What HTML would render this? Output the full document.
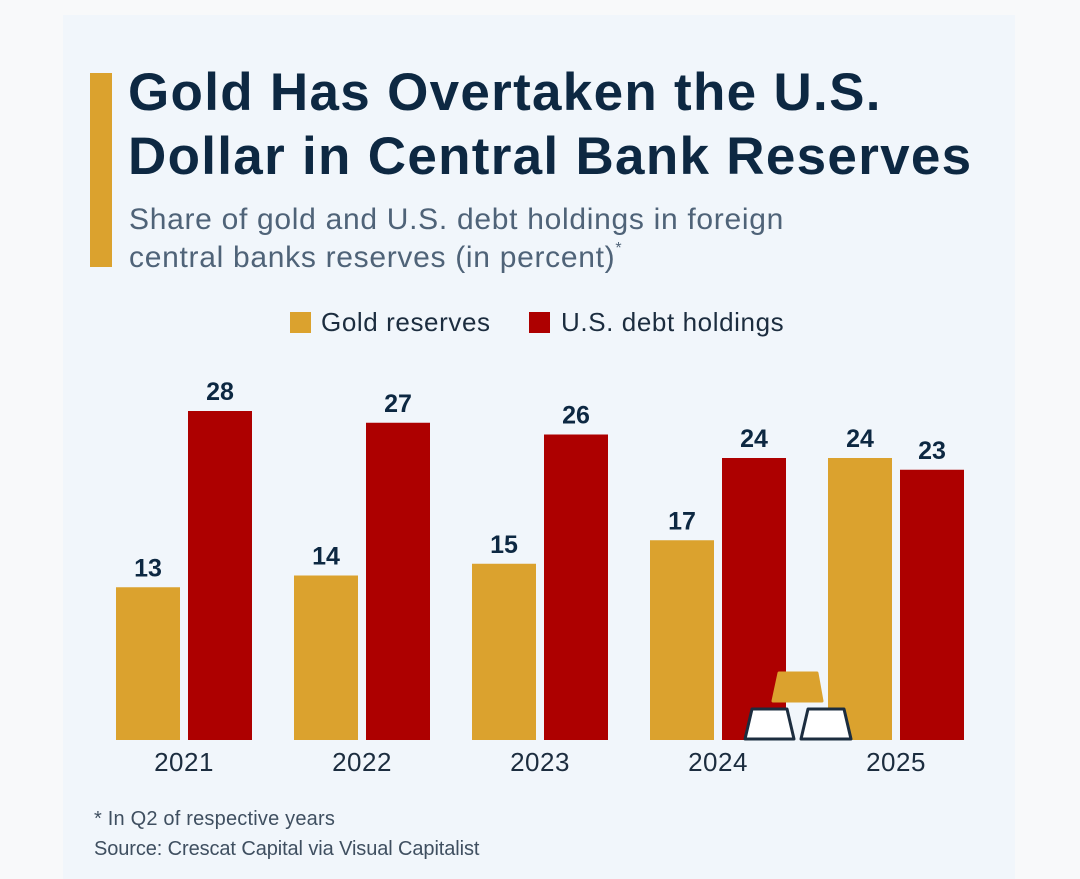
<!DOCTYPE html>
<html><head><meta charset="utf-8">
<style>
html,body{margin:0;padding:0;}
body{width:1080px;height:879px;background:#f8f9fa;position:relative;overflow:hidden;font-family:"Liberation Sans","DejaVu Sans",sans-serif;}
#card{position:absolute;left:63px;top:15px;width:952px;height:864px;background:#f1f6fb;}
.t{position:absolute;white-space:nowrap;}
sup{line-height:0;vertical-align:0;position:relative;top:-14px;}
</style></head><body>
<div id="card"></div>
<div class="t" style="left:90px;top:73px;width:22px;height:194px;background:#dba22e"></div>
<div class="t" style="left:128px;top:61px;font-size:53px;font-weight:bold;line-height:64px;color:#0d2842;letter-spacing:1.3px">Gold Has Overtaken the U.S.<br>Dollar in Central Bank Reserves</div>
<div class="t" style="left:129px;top:201px;font-size:30px;line-height:38px;color:#4f6378;letter-spacing:0.7px">Share of gold and U.S. debt holdings in foreign<br>central banks reserves (in percent)<sup style="font-size:16px">*</sup></div>
<div class="t" style="left:290px;top:312px;width:21px;height:21px;background:#dba22e"></div>
<div class="t" style="left:321px;top:307px;font-size:26px;color:#1c2d3f;letter-spacing:0.6px">Gold reserves</div>
<div class="t" style="left:529px;top:312px;width:21px;height:21px;background:#ad0000"></div>
<div class="t" style="left:561px;top:307px;font-size:26px;color:#1c2d3f;letter-spacing:0.6px">U.S. debt holdings</div>
<svg id="chart" width="1080" height="879" style="position:absolute;left:0;top:0"></svg>
<div class="t" style="left:94px;top:808px;font-size:20px;color:#3f4f60;letter-spacing:0.2px">* In Q2 of respective years</div>
<div class="t" style="left:94px;top:838px;font-size:20px;color:#3f4f60;letter-spacing:-0.1px">Source: Crescat Capital via Visual Capitalist</div>
<script>
const years=["2021","2022","2023","2024","2025"];
const gold=[13,14,15,17,24];
const debt=[28,27,26,24,23];
const NS="http://www.w3.org/2000/svg";
const svg=document.getElementById('chart');
const base=740, pxPer=11.75, x0=116, step=178, bw=64, gap=8;
function y(v){return base-v*pxPer;}
function mk(tag,attrs){const e=document.createElementNS(NS,tag);for(const k in attrs)e.setAttribute(k,attrs[k]);svg.appendChild(e);return e;}
years.forEach((yr,i)=>{
  const gx=x0+i*step;
  const series=[[gold[i],'#dba22e',gx,'gold'],[debt[i],'#ad0000',gx+bw+gap,'debt']];
  series.forEach(([v,c,x,n])=>{
    const r=mk('rect',{x:x,y:y(v),width:bw,height:v*pxPer,fill:c});
    
    
    const t=mk('text',{x:x+bw/2,y:y(v)-11,'text-anchor':'middle','font-size':'25','font-weight':'bold',fill:'#0d2842','font-family':'Liberation Sans, sans-serif'});
    t.textContent=v;
    
    
  });
  const yl=mk('text',{x:gx+bw+gap/2,y:771,'text-anchor':'middle','font-size':'26','letter-spacing':'0.5',fill:'#1c2d3f','font-family':'Liberation Sans, sans-serif'});
  yl.textContent=yr;
  
  
});
const g=document.createElementNS(NS,'g');


g.innerHTML='<path d="M779,673 L817,673 L822,701 L773,701 Z" fill="#dba22e" stroke="#dba22e" stroke-width="3" stroke-linejoin="round"/>'+
'<path d="M752,709 L787,709 L794,739 L745,739 Z" fill="#fff" stroke="#1c2d3f" stroke-width="3" stroke-linejoin="round"/>'+
'<path d="M808,709 L844,709 L851,739 L801,739 Z" fill="#fff" stroke="#1c2d3f" stroke-width="3" stroke-linejoin="round"/>';
svg.appendChild(g);
</script>
</body></html>
